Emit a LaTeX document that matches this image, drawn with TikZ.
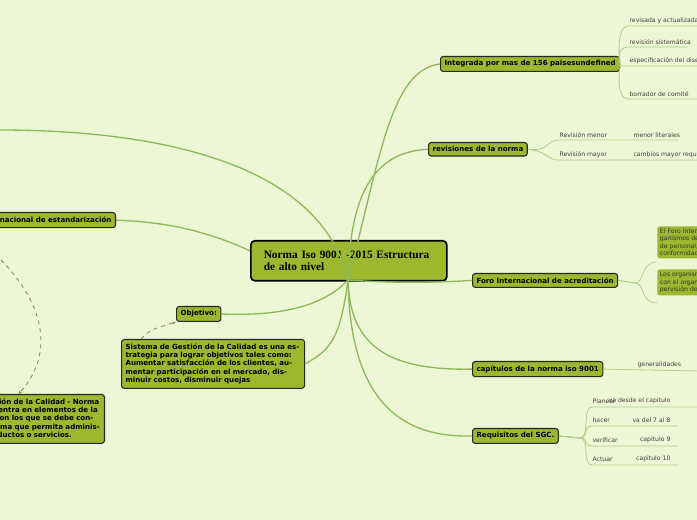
\documentclass[tikz,border=0pt]{standalone}
\usepackage{fontspec}
\usetikzlibrary{arrows.meta}
\setmainfont{DejaVu Sans}
\newfontfamily\serifb{Liberation Serif}
\begin{document}
\begin{tikzpicture}[x=0.75pt,y=-0.75pt,
  box/.style={draw=black!85,line width=0.8pt,fill=boxg,rounded corners=2pt,font=\fontsize{5.3}{6.3}\selectfont\bfseries,inner sep=3pt,anchor=north west},
  leaf/.style={font=\fontsize{4.6}{5.5}\selectfont,text=black!75,anchor=south west,inner sep=1pt},
  lbox/.style={fill=boxg,font=\fontsize{4.6}{5.5}\selectfont,text=black!80,anchor=north west,align=left,inner sep=2pt,rounded corners=2pt},
  br/.style={draw=lineg,line width=1pt},
  th/.style={draw=lineg!70,line width=0.6pt},
  dsh/.style={draw=lineg!80!black,dashed,line width=0.6pt,-{Stealth[length=3pt]}}]
\definecolor{bg}{HTML}{EEF7D5}
\definecolor{boxg}{HTML}{9DB72E}
\definecolor{lineg}{HTML}{8DBA5A}
\fill[bg] (0,0) rectangle (697,520);
\clip (0,0) rectangle (697,520);
% central
\node[box,draw=black,line width=1.2pt,minimum width=196*0.75pt,minimum height=40*0.75pt,text width=170*0.75pt,align=left,font=\serifb\fontsize{8.5}{9.5}\selectfont\bfseries,inner sep=6pt,rounded corners=3pt] (c) at (250,240) {Norma Iso 9001 -2015 Estructura de alto nivel};
\coordinate (cc) at (348,280);
% main branches
\node[box] (int) at (440,56) {Integrada por mas de 156 paisesundefined};
\node[box] (rev) at (428,142) {revisiones de la norma};
\node[box] (foro) at (472,273) {Foro Internacional de acreditación};
\node[box] (cap) at (472,361) {capítulos de la norma iso 9001};
\node[box] (req) at (472,428) {Requisitos del SGC.};
\node[box] (obj) at (176,306) {Objetivo:};
\node[box,text width=175*0.75pt,align=left] (sis) at (121,339) {Sistema de Gestión de la Calidad es una estrategia para lograr objetivos tales como: Aumentar satisfacción de los clientes, aumentar participación en el mercado, disminuir costos, disminuir quejas};
\node[box,anchor=north east] (est) at (116,212) {Organización Internacional de estandarización};
\node[box,anchor=north east,text width=190*0.75pt,align=left] (sg) at (105,394) {Es un Sistema de Gestión de la Calidad - Norma Internacional que se centra en elementos de la gestión de la calidad con los que se debe contar para tener un sistema que permita administrar y mejorar sus productos o servicios.};
\coordinate (tl) at (0,130);
\draw[br] (cc) .. controls (380,160) and (390,70) .. (int.west);
\draw[br] (cc) .. controls (350,200) and (370,152) .. (rev.west);
\draw[br] (cc) .. controls (390,283) and (430,283) .. (foro.west);
\draw[br] (cc) .. controls (350,340) and (380,371) .. (cap.west);
\draw[br] (cc) .. controls (350,400) and (400,438) .. (req.west);
\draw[br] (cc) .. controls (320,310) and (270,316) .. (obj.east);
\draw[br] (cc) .. controls (340,340) and (330,350) .. (sis.east);
\draw[br] (c.west) ++(0,-10) .. controls (200,228) and (160,222) .. (est.east);
\draw[br] (cc) .. controls (320,160) and (150,130) .. (tl);
\draw[dsh] (sis.north west) ++(20,0) .. controls (150,330) .. (obj.south west);
\draw[dsh] (est.south) ++(-54,0) .. controls (60,300) and (50,360) .. ([xshift=-65pt]sg.north east);
\draw[dsh] (est.south) ++(-54,0) -- ++(-3,-10);
% Integrada leaves
\foreach \y/\t/\e in {23/revisada y actualizada en/697,44/revisión sistemática/688,63/especificación del diseño/697,96/borrador de comité/697}{
  \draw[th] (int.east) .. controls (620,66) and (615,\y+3) .. (628,\y+3) -- (\e,\y+3);
  \node[leaf] at (628,\y+2) {\t};}
% revisiones leaves
\draw[th] (rev.east) .. controls (550,152) and (545,140) .. (560,140) -- (678,140);
\node[leaf] (rm) at (558,139) {Revisión menor};
\node[leaf] (ml) at (632,139) {menor literales};
\draw[th] (rev.east) .. controls (550,152) and (545,160) .. (560,160) -- (697,160);
\node[leaf] (rM) at (558,159) {Revisión mayor};
\node[leaf] (cm) at (632,159) {cambios mayor requisitos};
% foro boxes
\node[lbox,text width=60pt] (f1) at (657,226) {El Foro Internacional organismos de evaluación de personal, productos la conformidad};
\node[lbox,text width=60pt] (f2) at (657,269) {Los organismos de países con el organismos de supervisión de};
\draw[th] (foro.east) -- (635,283) .. controls (645,283) and (640,262) .. (657,262);
\draw[th] (foro.east) -- (635,283) .. controls (645,283) and (640,303) .. (657,303);
% capitulos
\draw[th] (cap.east) -- (697,371);
\node[leaf] (gen) at (636,369) {generalidades};
% requisitos
\foreach \y/\a/\b/\e in {404/Planear/va desde el capitulo/697,423/hacer/va del 7 al 8/678,443/verificar/capitulo 9/678,462/Actuar/capitulo 10/678}{
  \draw[th] (req.east) -- (580,438) .. controls (590,438) and (582,\y+3) .. (592,\y+3) -- (\e,\y+3);
  \node[leaf] at (591,\y+1) {\a};
  \node[leaf,anchor=south east] at (672,\y+1) {\b};}
\end{tikzpicture}
\end{document}
